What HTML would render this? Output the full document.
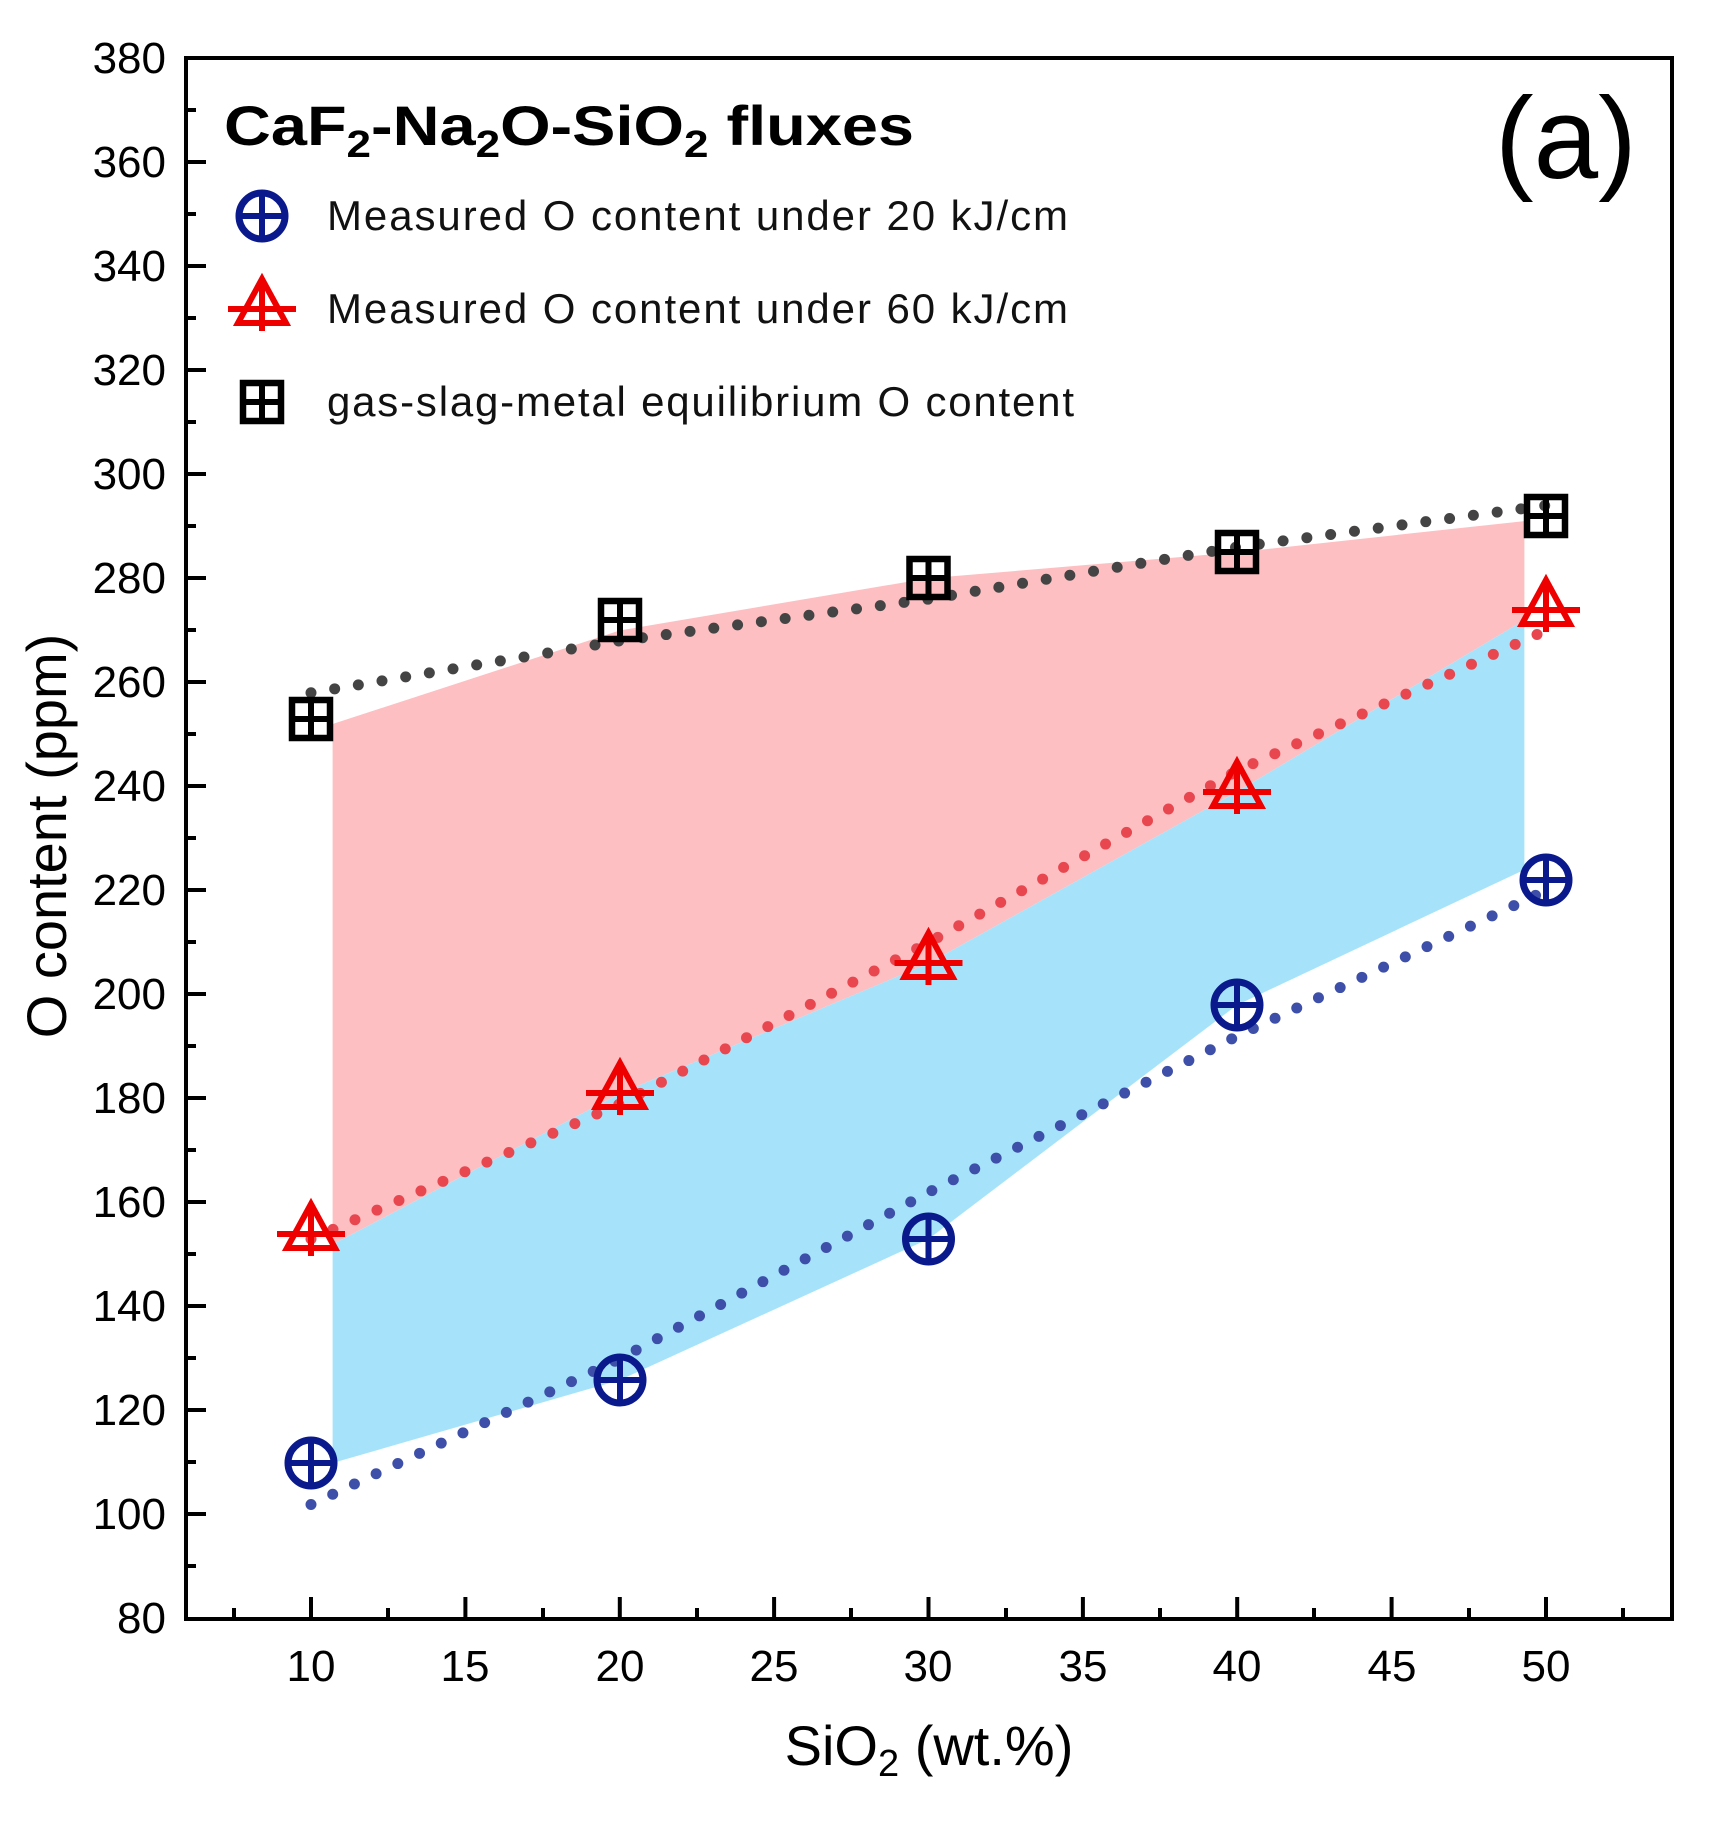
<!DOCTYPE html>
<html><head><meta charset="utf-8"><style>body{margin:0;background:#fff}svg{display:block}</style></head>
<body>
<svg width="1730" height="1822" viewBox="0 0 1730 1822" xmlns="http://www.w3.org/2000/svg" font-family="Liberation Sans, Arial, sans-serif">
<polygon points="332.6,724 620,630.4 928.5,578.3 1237,552.3 1524.4,521.1 1524.4,620 1237,791.7 928.5,963.4 620,1093.5 332.6,1244.4" fill="#fdbfc2"/>
<polygon points="332.6,1244.4 620,1093.5 928.5,963.4 1237,791.7 1524.4,620 1524.4,869.7 1237,1005 928.5,1239 620,1380 332.6,1463" fill="#a6e3fb"/>
<g fill="none" stroke-width="11" stroke-linecap="round" stroke-dasharray="0 24">
<polyline points="311,692.8 620,640.8 928.5,599.1 1237,547.1 1546,505.5" stroke="#444"/>
<polyline points="311,1239 620,1103.9 928.5,942.6 1237,770.9 1546,630.4" stroke="#e8474f"/>
<polyline points="311,1504.5 620,1358.8 928.5,1192.3 1237,1036.2 1546,890.5" stroke="#3d4fa8"/>
</g>
<rect x="186" y="58" width="1486" height="1561" fill="none" stroke="#000" stroke-width="4"/>
<g stroke="#000" stroke-width="4">
<path d="M186 58h20M186 162h20M186 266h20M186 370h20M186 474h20M186 578h20M186 682h20M186 786h20M186 890h20M186 994h20M186 1098h20M186 1202h20M186 1306h20M186 1410h20M186 1514h20"/>
<path d="M186 110h10M186 214h10M186 318h10M186 422h10M186 526h10M186 630h10M186 734h10M186 838h10M186 942h10M186 1046h10M186 1150h10M186 1254h10M186 1358h10M186 1462h10M186 1566h10"/>
<path d="M311 1619v-22M465.4 1619v-22M619.8 1619v-22M774.1 1619v-22M928.5 1619v-22M1082.9 1619v-22M1237.2 1619v-22M1391.6 1619v-22M1546 1619v-22"/>
<path d="M234 1619v-11M388 1619v-11M543 1619v-11M697 1619v-11M851 1619v-11M1006 1619v-11M1160 1619v-11M1314 1619v-11M1469 1619v-11M1623 1619v-11"/>
</g>
<g font-size="44" text-anchor="end" fill="#000">
<text x="166" y="73">380</text><text x="166" y="177">360</text><text x="166" y="281">340</text><text x="166" y="385">320</text><text x="166" y="489">300</text><text x="166" y="593">280</text><text x="166" y="697">260</text><text x="166" y="801">240</text><text x="166" y="905">220</text><text x="166" y="1009">200</text><text x="166" y="1113">180</text><text x="166" y="1217">160</text><text x="166" y="1321">140</text><text x="166" y="1425">120</text><text x="166" y="1529">100</text><text x="166" y="1633">80</text>
</g>
<g font-size="44" text-anchor="middle" fill="#000">
<text x="311" y="1681">10</text><text x="465" y="1681">15</text><text x="620" y="1681">20</text><text x="774" y="1681">25</text><text x="928" y="1681">30</text><text x="1083" y="1681">35</text><text x="1237" y="1681">40</text><text x="1392" y="1681">45</text><text x="1546" y="1681">50</text>
</g>
<text x="929" y="1765" font-size="56" text-anchor="middle">SiO<tspan font-size="38" dy="11">2</tspan><tspan dy="-11"> (wt.%)</tspan></text>
<text transform="translate(66,836) rotate(-90)" font-size="56" text-anchor="middle">O content (ppm)</text>
<text x="224" y="145" font-size="56" font-weight="bold" textLength="690" lengthAdjust="spacingAndGlyphs">CaF<tspan font-size="38" dy="12">2</tspan><tspan dy="-12">-Na</tspan><tspan font-size="38" dy="12">2</tspan><tspan dy="-12">O-SiO</tspan><tspan font-size="38" dy="12">2</tspan><tspan dy="-12"> fluxes</tspan></text>
<text x="1495" y="178" font-size="116">(a)</text>
<g font-size="42" fill="#111">
<text x="327" y="230" textLength="741" lengthAdjust="spacing">Measured O content under 20 kJ/cm</text>
<text x="327" y="323" textLength="741" lengthAdjust="spacing">Measured O content under 60 kJ/cm</text>
<text x="327" y="416" textLength="747" lengthAdjust="spacing">gas-slag-metal equilibrium O content</text>
</g>
<defs>
<g id="c"><circle r="23" fill="none" stroke="#0a1a8c" stroke-width="7"/><path d="M-23 0h46M0 -23v46" stroke="#0a1a8c" stroke-width="6"/></g>
<g id="t"><path d="M0 -30L24 14H-24Z" fill="none" stroke="#e00" stroke-width="6"/><path d="M-34 0h68M0 -30v52" stroke="#e00" stroke-width="6"/></g>
<g id="s"><rect x="-19" y="-19" width="38" height="38" fill="none" stroke="#000" stroke-width="6.5"/><path d="M-19 0h38M0 -19v38" stroke="#000" stroke-width="6"/></g>
</defs>
<use href="#c" x="262" y="216"/><use href="#t" x="262" y="309"/><use href="#s" x="262" y="402"/>
<use href="#c" x="311" y="1463"/><use href="#c" x="620" y="1380"/><use href="#c" x="928.5" y="1239"/><use href="#c" x="1237" y="1005"/><use href="#c" x="1546" y="880"/>
<use href="#t" x="311" y="1234"/><use href="#t" x="620" y="1093"/><use href="#t" x="928.5" y="963"/><use href="#t" x="1237" y="792"/><use href="#t" x="1546" y="610"/>
<use href="#s" x="311" y="719"/><use href="#s" x="620" y="620"/><use href="#s" x="928.5" y="578"/><use href="#s" x="1237" y="552"/><use href="#s" x="1546" y="516"/>
</svg>
</body></html>
